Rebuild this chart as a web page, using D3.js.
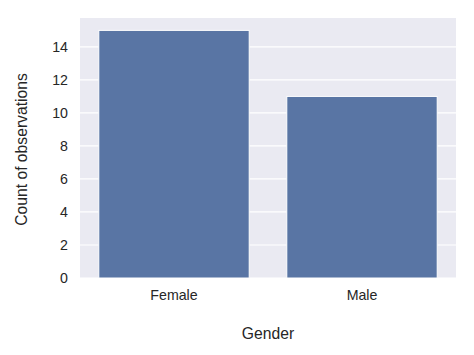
<!DOCTYPE html>
<html><head><meta charset="utf-8">
<script src="https://cdn.jsdelivr.net/npm/d3@7"></script>
<style>body{margin:0;background:#fff}text{font-family:"Liberation Sans",Arial,sans-serif;fill:#262626}</style>
</head><body><svg id="c" width="474" height="355"></svg>
<script>
const categories = ["Female", "Male"];
const counts = [15, 11];
const yTicks = [0, 2, 4, 6, 8, 10, 12, 14];

const svg = d3.select("#c");
const m = {l: 80, r: 18, t: 18, b: 77};
const W = 474, H = 355;
const x = d3.scaleBand().domain(categories).range([m.l, W - m.r]).paddingInner(0.2).paddingOuter(0.1);
const y = d3.scaleLinear().domain([0, 15.75]).range([H - m.b, m.t]);

svg.append("rect").attr("x", m.l).attr("y", m.t).attr("width", W - m.r - m.l).attr("height", H - m.b - m.t).attr("fill", "#eaeaf2");

svg.append("g").selectAll("line").data(yTicks).join("line")
  .attr("x1", m.l).attr("x2", W - m.r).attr("y1", d => y(d)).attr("y2", d => y(d))
  .attr("stroke", "#fff").attr("stroke-width", 1.2);

svg.append("g").selectAll("rect").data(categories).join("rect")
  .attr("x", d => x(d)).attr("width", x.bandwidth())
  .attr("y", (d, i) => y(counts[i])).attr("height", (d, i) => y(0) - y(counts[i]))
  .attr("fill", "#5975a4").attr("stroke", "#fff").attr("stroke-width", 1);

const yAxis = svg.append("g").attr("transform", `translate(${m.l},0)`)
  .call(d3.axisLeft(y).tickValues(yTicks).tickSize(0).tickPadding(12));
yAxis.select(".domain").remove();
yAxis.selectAll("text").attr("font-size", 14.2).style("font-family", '"Liberation Sans",Arial,sans-serif').attr("fill", "#262626");

const xAxis = svg.append("g").attr("transform", `translate(0,${H - m.b})`)
  .call(d3.axisBottom(x).tickSize(0).tickPadding(12));
xAxis.select(".domain").remove();
xAxis.selectAll("text").attr("font-size", 14.2).style("font-family", '"Liberation Sans",Arial,sans-serif').attr("fill", "#262626");

svg.append("text").attr("x", (m.l + W - m.r) / 2).attr("y", 339).attr("text-anchor", "middle")
  .attr("font-size", 15.7).text("Gender");
svg.append("text").attr("transform", `translate(27,149.5) rotate(-90)`).attr("text-anchor", "middle")
  .attr("font-size", 15.7).text("Count of observations");
</script></body></html>
